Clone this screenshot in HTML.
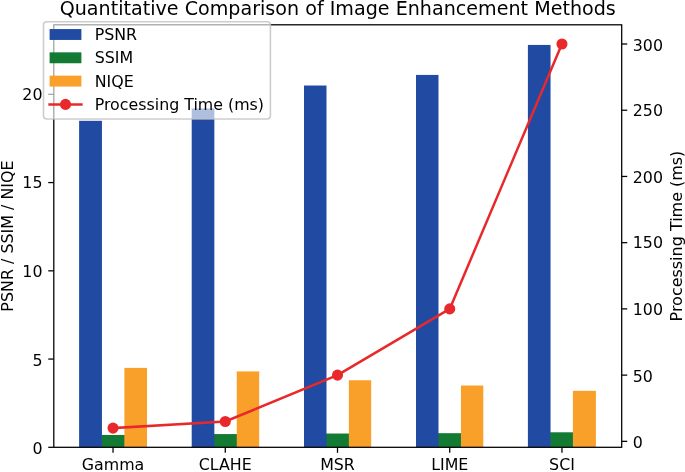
<!DOCTYPE html>
<html lang="en"><head><meta charset="utf-8"><title>Quantitative Comparison of Image Enhancement Methods</title>
<style>html,body{margin:0;padding:0;background:#fff;overflow:hidden}svg{display:block}text{font-family:"DejaVu Sans","Liberation Sans",sans-serif;fill:#000}</style></head><body>
<svg width="685" height="472" viewBox="0 0 685 472">
<rect width="685" height="472" fill="#fff"/>
<rect x="101.45" y="434.95" width="23.45" height="12.35" fill="#127a33"/>
<rect x="79.10" y="120.81" width="22.85" height="326.49" fill="#214ba3"/>
<rect x="124.40" y="367.88" width="22.60" height="79.42" fill="#f8a02a"/>
<rect x="213.85" y="434.06" width="23.40" height="13.24" fill="#127a33"/>
<rect x="191.70" y="108.45" width="22.65" height="338.85" fill="#214ba3"/>
<rect x="236.75" y="371.41" width="22.45" height="75.89" fill="#f8a02a"/>
<rect x="326.00" y="433.53" width="23.35" height="13.77" fill="#127a33"/>
<rect x="304.00" y="85.51" width="22.50" height="361.79" fill="#214ba3"/>
<rect x="348.85" y="380.24" width="22.35" height="67.06" fill="#f8a02a"/>
<rect x="438.00" y="433.18" width="23.45" height="14.12" fill="#127a33"/>
<rect x="416.00" y="74.92" width="22.50" height="372.38" fill="#214ba3"/>
<rect x="460.95" y="385.53" width="22.35" height="61.77" fill="#f8a02a"/>
<rect x="550.05" y="432.30" width="23.35" height="15.00" fill="#127a33"/>
<rect x="527.90" y="44.92" width="22.65" height="402.38" fill="#214ba3"/>
<rect x="572.90" y="390.83" width="23.00" height="56.47" fill="#f8a02a"/>
<g stroke="#000" stroke-width="1.27" fill="none" stroke-linecap="butt">
<line x1="53.80" y1="447.30" x2="48.26" y2="447.30"/>
<line x1="53.80" y1="359.06" x2="48.26" y2="359.06"/>
<line x1="53.80" y1="270.82" x2="48.26" y2="270.82"/>
<line x1="53.80" y1="182.58" x2="48.26" y2="182.58"/>
<line x1="53.80" y1="94.33" x2="48.26" y2="94.33"/>
<line x1="621.70" y1="441.34" x2="627.24" y2="441.34"/>
<line x1="621.70" y1="375.12" x2="627.24" y2="375.12"/>
<line x1="621.70" y1="308.89" x2="627.24" y2="308.89"/>
<line x1="621.70" y1="242.67" x2="627.24" y2="242.67"/>
<line x1="621.70" y1="176.45" x2="627.24" y2="176.45"/>
<line x1="621.70" y1="110.23" x2="627.24" y2="110.23"/>
<line x1="621.70" y1="44.00" x2="627.24" y2="44.00"/>
<line x1="113.03" y1="447.30" x2="113.03" y2="452.84"/>
<line x1="225.27" y1="447.30" x2="225.27" y2="452.84"/>
<line x1="337.50" y1="447.30" x2="337.50" y2="452.84"/>
<line x1="449.73" y1="447.30" x2="449.73" y2="452.84"/>
<line x1="561.97" y1="447.30" x2="561.97" y2="452.84"/>
<rect x="53.80" y="24.80" width="567.90" height="422.50" stroke-linejoin="miter"/>
</g>
<polyline points="113.03,428.10 225.27,421.47 337.50,375.12 449.73,308.89 561.97,44.00" fill="none" stroke="#e9282b" stroke-width="2.5" stroke-linejoin="round" stroke-linecap="square"/>
<circle cx="113.03" cy="428.10" r="5.54" fill="#e9282b"/>
<circle cx="225.27" cy="421.47" r="5.54" fill="#e9282b"/>
<circle cx="337.50" cy="375.12" r="5.54" fill="#e9282b"/>
<circle cx="449.73" cy="308.89" r="5.54" fill="#e9282b"/>
<circle cx="561.97" cy="44.00" r="5.54" fill="#e9282b"/>
<g font-size="15.83">
<text x="42.5" y="453.70" text-anchor="end">0</text>
<text x="42.5" y="365.96" text-anchor="end">5</text>
<text x="42.5" y="277.02" text-anchor="end">10</text>
<text x="42.5" y="188.48" text-anchor="end">15</text>
<text x="42.5" y="100.33" text-anchor="end">20</text>
<text x="632.8" y="447.74">0</text>
<text x="632.8" y="381.52">50</text>
<text x="632.8" y="315.39">100</text>
<text x="632.8" y="248.47">150</text>
<text x="632.8" y="182.85">200</text>
<text x="632.8" y="116.03">250</text>
<text x="632.8" y="50.50">300</text>
<text x="113.03" y="470.35" text-anchor="middle">Gamma</text>
<text x="225.27" y="470.35" text-anchor="middle">CLAHE</text>
<text x="337.50" y="470.35" text-anchor="middle">MSR</text>
<text x="449.73" y="470.35" text-anchor="middle">LIME</text>
<text x="561.97" y="470.35" text-anchor="middle">SCI</text>
<text transform="translate(13.3,236.05) rotate(-90)" text-anchor="middle" textLength="151.3" lengthAdjust="spacingAndGlyphs">PSNR / SSIM / NIQE</text>
<text transform="translate(682.2,236.05) rotate(-90)" text-anchor="middle" textLength="170.8" lengthAdjust="spacingAndGlyphs">Processing Time (ms)</text>
</g>
<text x="337.75" y="14.9" font-size="19.0" text-anchor="middle" textLength="556.2" lengthAdjust="spacingAndGlyphs">Quantitative Comparison of Image Enhancement Methods</text>
<rect x="43.5" y="21.8" width="226.90" height="97.20" rx="3.2" ry="3.2" fill="#fff" fill-opacity="0.64" stroke="#c0c0c0" stroke-opacity="0.8" stroke-width="1.58"/>
<rect x="49.6" y="29.05" width="31.8" height="10.9" fill="#214ba3"/>
<rect x="49.6" y="52.35" width="31.8" height="10.9" fill="#127a33"/>
<rect x="49.6" y="75.65" width="31.8" height="10.9" fill="#f8a02a"/>
<line x1="49.6" y1="104.4" x2="81.4" y2="104.4" stroke="#e9282b" stroke-width="2.5" stroke-linecap="square"/>
<circle cx="65.50" cy="104.4" r="5.54" fill="#e9282b"/>
<g font-size="15.83">
<text x="94.7" y="40.10">PSNR</text>
<text x="94.7" y="63.40">SSIM</text>
<text x="94.7" y="86.70">NIQE</text>
<text x="94.7" y="110.00">Processing Time (ms)</text>
</g>
</svg></body></html>
